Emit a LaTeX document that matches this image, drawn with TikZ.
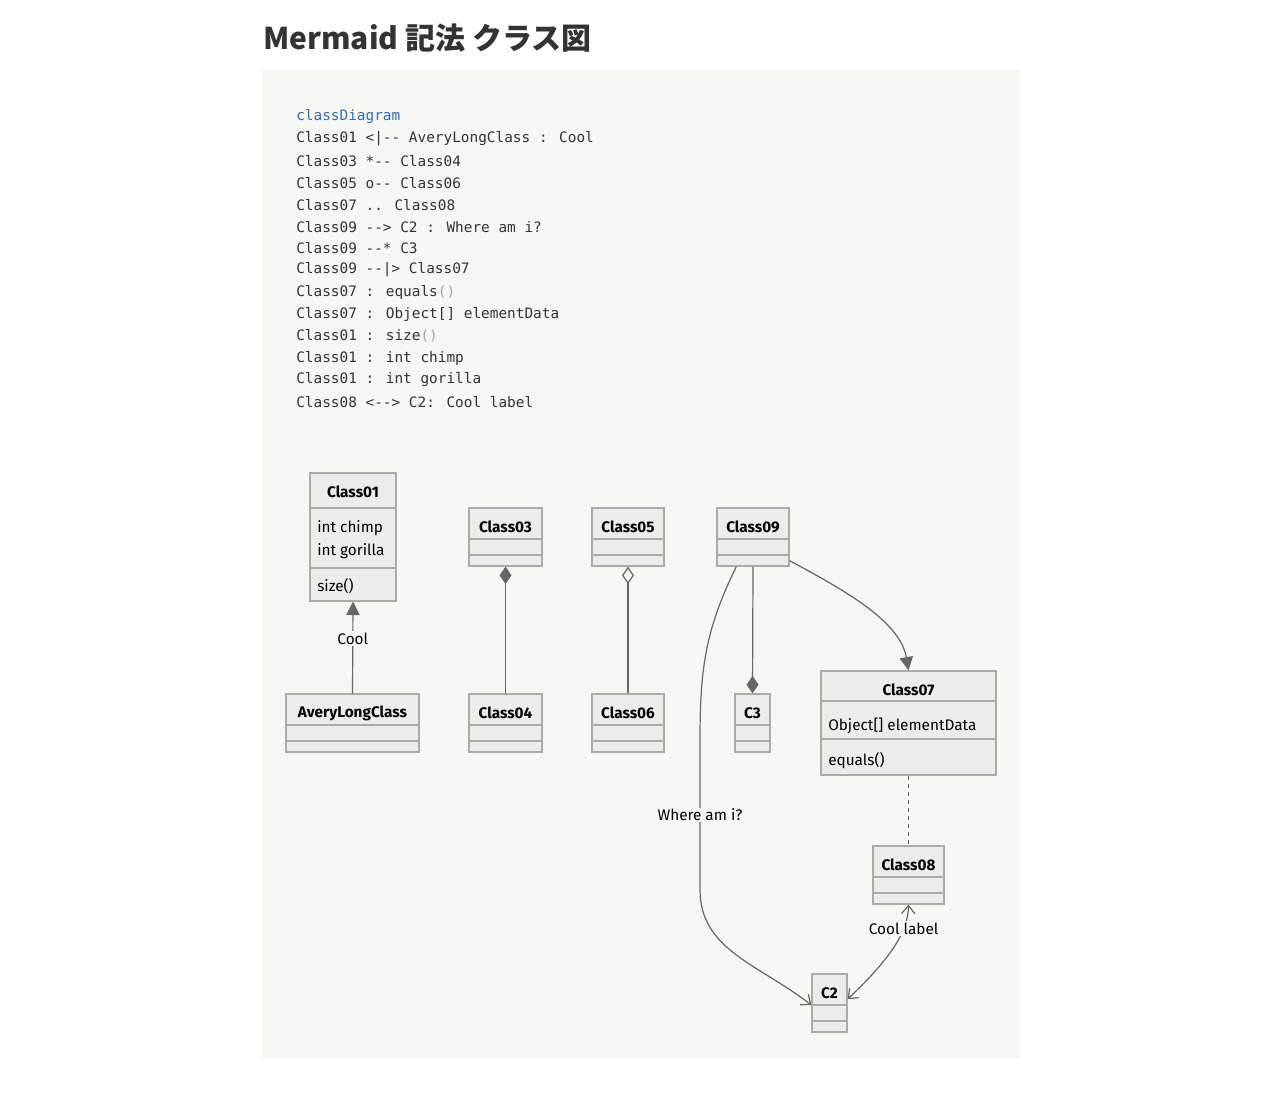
\documentclass[tikz,border=0pt]{standalone}
\usepackage{fontspec}
\setmainfont{Fira Sans}
\newfontfamily\cjk{Noto Sans CJK JP}
\newfontfamily\codefont{DejaVu Sans Mono}
\usetikzlibrary{arrows.meta,calc}
\definecolor{panel}{HTML}{F6F6F3}
\definecolor{boxfill}{HTML}{ECECEC}
\definecolor{boxline}{HTML}{AAAAAA}
\definecolor{edge}{HTML}{666666}
\definecolor{kw}{HTML}{2F6FAF}
\definecolor{txt}{HTML}{333333}
\tikzset{
  cls/.style={draw=boxline,fill=boxfill,line width=1pt,inner sep=0pt},
  divider/.style={draw=boxline,line width=0.8pt},
  ctitle/.style={font=\fontsize{11.5}{13}\selectfont\bfseries,text=black,inner sep=0pt},
  cmember/.style={font=\fontsize{11.5}{13}\selectfont,text=black,anchor=west,inner sep=0pt},
  codeline/.style={font=\codefont\fontsize{10.8}{12}\selectfont,text=txt,anchor=west,inner sep=0pt},
  rel/.style={draw=edge,line width=0.9pt},
  elabel/.style={font=\fontsize{11.5}{13}\selectfont,fill=panel,inner sep=1pt,text=black},
  tri/.style={-{Triangle[length=10pt,width=10pt,fill=edge]}},
  fdia/.style={{Diamond[length=13pt,width=9pt,fill=edge]}-},
  odia/.style={{Diamond[length=13pt,width=9pt,open,fill=panel]}-},
  barb/.style={-{Straight Barb[length=6pt,width=10pt]}},
}
\newcommand\umlbox[7]{%
  \node[cls,minimum width={(#4-#2)*0.75pt},minimum height={(#5-#3)*0.75pt}] (#1) at ({(#2+#4)/2},{(#3+#5)/2}) {};
  \draw[divider] (#2,#6) -- (#4,#6);
  \draw[divider] (#2,#7) -- (#4,#7);}
\begin{document}
\begin{tikzpicture}[x=0.75pt,y=-0.75pt]
\useasboundingbox (0,0) rectangle (1280,1092);
\fill[white] (0,0) rectangle (1280,1092);
\fill[panel] (262,70) rectangle (1021,1058);
\node[anchor=west,inner sep=0pt,font=\cjk\bfseries\fontsize{22.5}{26}\selectfont,text=txt] (title) at (263,38) {Mermaid 記法 クラス図};
% code
\node[codeline,text=kw] (l0) at (296,117) {classDiagram};
\node[codeline] (l1) at (296,139) {Class01 <|-- AveryLongClass : Cool};
\node[codeline] (l2) at (296,161) {Class03 *-- Class04};
\node[codeline] (l3) at (296,183) {Class05 o-- Class06};
\node[codeline] (l4) at (296,205) {Class07 .. Class08};
\node[codeline] (l5) at (296,227) {Class09 --> C2 : Where am i?};
\node[codeline] (l6) at (296,248) {Class09 --* C3};
\node[codeline] (l7) at (296,270) {Class09 --|> Class07};
\node[codeline] (l8) at (296,292) {Class07 : equals\textcolor{gray!70}{()}};
\node[codeline] (l9) at (296,314) {Class07 : Object[] elementData};
\node[codeline] (l10) at (296,336) {Class01 : size\textcolor{gray!70}{()}};
\node[codeline] (l11) at (296,358) {Class01 : int chimp};
\node[codeline] (l12) at (296,380) {Class01 : int gorilla};
\node[codeline] (l13) at (296,402) {Class08 <--> C2: Cool label};
% boxes
\umlbox{c01}{310}{473}{396}{601}{508}{568}
\node[ctitle] (t01) at (353,492) {Class01};
\node[cmember] (m01a) at (317,528) {int chimp};
\node[cmember] (m01b) at (317,551) {int gorilla};
\node[cmember] (m01c) at (317,586) {size()};
\umlbox{avery}{286}{694}{419}{752}{725}{741}
\node[ctitle] (tav) at (352.5,713) {AveryLongClass};
\umlbox{c03}{469}{508}{542}{566}{539}{555}
\node[ctitle] (t03) at (505.5,527) {Class03};
\umlbox{c04}{469}{694}{542}{752}{725}{741}
\node[ctitle] (t04) at (505.5,713) {Class04};
\umlbox{c05}{592}{508}{664}{566}{539}{555}
\node[ctitle] (t05) at (628,527) {Class05};
\umlbox{c06}{592}{694}{664}{752}{725}{741}
\node[ctitle] (t06) at (628,713) {Class06};
\umlbox{c09}{717}{508}{789}{566}{539}{555}
\node[ctitle] (t09) at (753,527) {Class09};
\umlbox{c3}{735}{694}{770}{752}{725}{741}
\node[ctitle] (tc3) at (752.5,713) {C3};
\umlbox{c07}{821}{671}{996}{775}{701}{739}
\node[ctitle] (t07) at (908.5,690) {Class07};
\node[cmember] (m07a) at (828,726) {Object[] elementData};
\node[cmember] (m07b) at (828,761) {equals()};
\umlbox{c08}{873}{846}{944}{904}{877}{893}
\node[ctitle] (t08) at (908.5,865) {Class08};
\umlbox{c2}{812}{974}{847}{1032}{1005}{1021}
\node[ctitle] (tc2) at (829.5,993) {C2};
% edges
\draw[rel,tri] (avery.north) -- node[elabel,pos=0.6] {Cool} (c01.south);
\draw[rel,fdia] (c03.south) -- (c04.north);
\draw[rel,odia] (c05.south) -- (c06.north);
\draw[rel,{Diamond[length=13pt,width=9pt,fill=edge]}-] (c3.north) -- (c09.south);
\draw[rel,tri] ($(c09.south east)+(0,-6)$) .. controls (840,588) and (900,620) .. (c07.north);
\draw[rel,barb] ($(c09.south west)+(20,0)$) .. controls (705,630) and (700,670) .. (700,740)
  -- node[elabel,pos=0.5] {Where am i?} (700,890)
  .. controls (700,950) and (760,965) .. ($(c2.west)+(0,2)$);
\draw[rel,dashed,dash pattern=on 3pt off 3pt] (c07.south) -- (c08.north);
\draw[rel,{Straight Barb[length=6pt,width=10pt]}-{Straight Barb[length=6pt,width=10pt]}] (c08.south) .. controls (908,925) and (900,950) .. node[elabel,pos=0.35] {Cool label} ($(c2.east)+(0,-4)$);
\end{tikzpicture}
\end{document}
